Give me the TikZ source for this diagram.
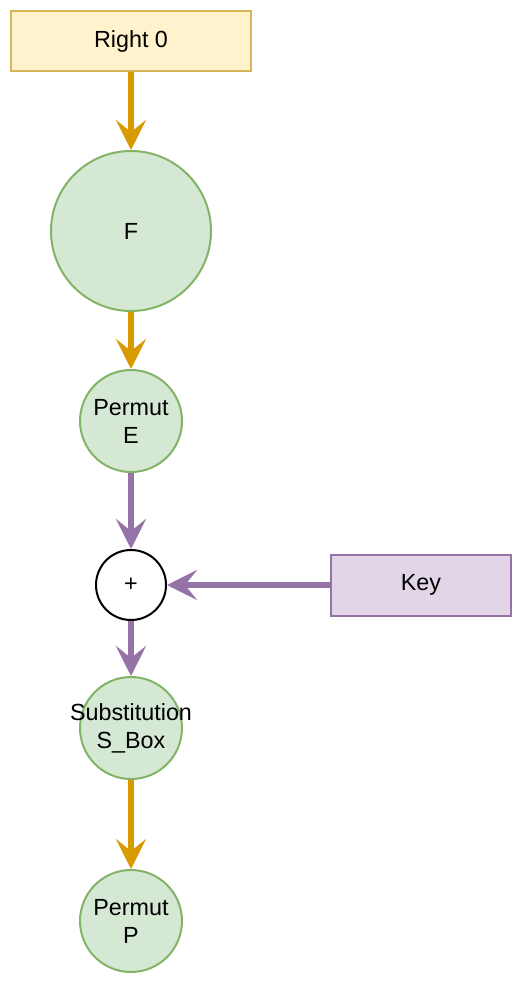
\documentclass[tikz,border=0pt]{standalone}
\usepackage{fontspec}
\setmainfont{Liberation Sans}
\usetikzlibrary{positioning, arrows.meta, shapes}
\definecolor{yelfill}{HTML}{FFF2CC}
\definecolor{yeldraw}{HTML}{D6B656}
\definecolor{grnfill}{HTML}{D5E8D4}
\definecolor{grndraw}{HTML}{82B366}
\definecolor{purfill}{HTML}{E1D5E7}
\definecolor{purdraw}{HTML}{9673A6}
\definecolor{orgline}{HTML}{D79B00}

\begin{document}
\begin{tikzpicture}[
    >={Stealth[length=22.5pt, width=22.5pt, inset=9pt]},
    font=\fontsize{17.5}{21}\selectfont,
    inbox/.style={rectangle, draw=yeldraw, fill=yelfill, line width=1.5pt, minimum width=180pt, minimum height=45pt},
    keybox/.style={rectangle, draw=purdraw, fill=purfill, line width=1.5pt, minimum width=135pt, minimum height=45.75pt},
    procnode/.style={circle, draw=grndraw, fill=grnfill, line width=1.5pt, align=center, inner sep=0pt, minimum size=76.5pt},
    xornode/.style={circle, draw=black, fill=white, line width=1.5pt, inner sep=0pt, minimum size=52.5pt},
    flowarrow/.style={->, draw=orgline, line width=4.3pt},
    keyarrow/.style={->, draw=purdraw, line width=4.3pt}
  ]

  \useasboundingbox (0,0) rectangle (391.5pt,-738pt);

  % --- NODES ---
  \node[inbox] (right0) at (98.25pt,-30.75pt) {Right 0};
  \node[procnode, minimum size=120pt, below=58.5pt of right0] (ffunc) {F};
  \node[procnode, below=42.75pt of ffunc] (permE) {Permut\\E};
  \node[xornode, below=57pt of permE] (xor) {+};
  \node[keybox, right=122.25pt of xor] (key) {Key};
  % text is wider than the circle, so it goes in as a label
  \node[procnode, below=41.25pt of xor,
        label={[align=center]center:Substitution\\S\_Box}] (sbox) {};
  \node[procnode, below=66.75pt of sbox] (permP) {Permut\\P};

  % --- ARROWS ---
  \draw[flowarrow] (right0) -- (ffunc);
  \draw[flowarrow] (ffunc) -- (permE);
  \draw[keyarrow] (permE) -- (xor);
  \draw[keyarrow] (key) -- (xor);
  \draw[keyarrow] (xor) -- (sbox);
  \draw[flowarrow] (sbox) -- (permP);

\end{tikzpicture}
\end{document}
